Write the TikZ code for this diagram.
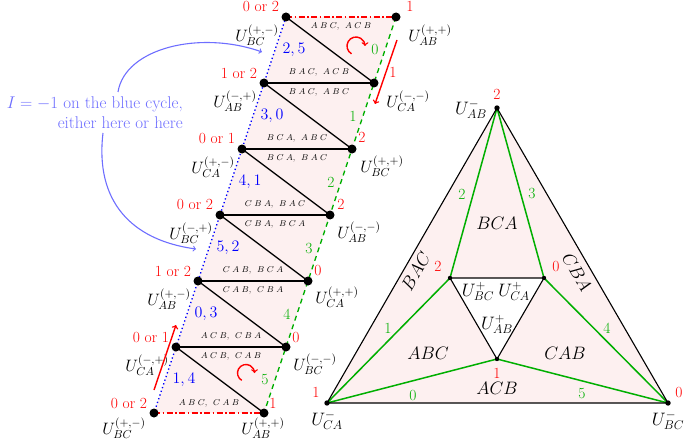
\RequirePackage{fix-cm}
\documentclass[tikz,border=0pt]{standalone}
\usetikzlibrary{calc}
\definecolor{pinkfill}{RGB}{253,240,240}
\definecolor{grn}{RGB}{0,175,0}
\definecolor{rd}{RGB}{255,0,0}
\definecolor{bl}{RGB}{0,0,255}
\definecolor{annot}{RGB}{110,110,255}
\newcommand{\fs}[1]{\fontsize{#1}{#1}\selectfont}
\newcommand{\pp}[2]{$#1$,\ \ $#2$}
\begin{document}
\begin{tikzpicture}[x=1pt,y=-1pt,
  every node/.style={inner sep=0pt},
  ulbl/.style={font=\fs{16.5}},
  redl/.style={text=rd,font=\fs{15.5}},
  grnl/.style={text=grn,font=\fs{15.5}},
  blul/.style={text=bl,font=\fs{16}},
  tlbl/.style={font=\fs{18}},
  small/.style={font=\fs{8.5}},
  edge/.style={line width=1.3pt},
  redarrow/.style={rd,line width=1.4pt,->},
  annarrow/.style={annot,line width=1.1pt,->}]
\useasboundingbox (0,0) rectangle (685,441);
% ---------------- ladder ----------------
\foreach \i in {0,...,6} {
  \coordinate (L\i) at ({286-22*\i},{17+66*\i});
  \coordinate (R\i) at ({396-22*\i},{17+66*\i});
}
\fill[pinkfill] (L0) -- (R0) -- (R6) -- (L6) -- cycle;
\foreach \i in {1,...,5} { \draw[edge] (L\i) -- (R\i); }
\foreach \i/\j in {0/1,1/2,2/3,3/4,4/5,5/6} { \draw[edge] (L\i) -- (R\j); }
\draw[rd,line width=1.3pt,dash pattern=on 6pt off 2.5pt on 1.5pt off 2.5pt] (L0) -- (R0);
\draw[rd,line width=1.3pt,dash pattern=on 6pt off 2.5pt on 1.5pt off 2.5pt] (L6) -- (R6);
\draw[bl,line width=1.4pt,dash pattern=on 1.3pt off 2.6pt] (L0) -- (L6);
\draw[grn,line width=1.3pt,dash pattern=on 5pt off 4pt] (R0) -- (R6);
\foreach \i in {0,...,6} {
  \fill (L\i) circle (4.5);
  \fill (R\i) circle (4.5);
}
% small labels
\node[small] (s0b) at ($(L0)!0.5!(R0)+(0,9)$) {\pp{A\;B\;C}{A\;C\;B}};
\node[small] (s1a) at ($(L1)!0.5!(R1)+(0,-11)$) {\pp{B\;A\;C}{A\;C\;B}};
\node[small] (s1b) at ($(L1)!0.5!(R1)+(0,9)$) {\pp{B\;A\;C}{A\;B\;C}};
\node[small] (s2a) at ($(L2)!0.5!(R2)+(0,-11)$) {\pp{B\;C\;A}{A\;B\;C}};
\node[small] (s2b) at ($(L2)!0.5!(R2)+(0,9)$) {\pp{B\;C\;A}{B\;A\;C}};
\node[small] (s3a) at ($(L3)!0.5!(R3)+(0,-11)$) {\pp{C\;B\;A}{B\;A\;C}};
\node[small] (s3b) at ($(L3)!0.5!(R3)+(0,9)$) {\pp{C\;B\;A}{B\;C\;A}};
\node[small] (s4a) at ($(L4)!0.5!(R4)+(0,-11)$) {\pp{C\;A\;B}{B\;C\;A}};
\node[small] (s4b) at ($(L4)!0.5!(R4)+(0,9)$) {\pp{C\;A\;B}{C\;B\;A}};
\node[small] (s5a) at ($(L5)!0.5!(R5)+(0,-11)$) {\pp{A\;C\;B}{C\;B\;A}};
\node[small] (s5b) at ($(L5)!0.5!(R5)+(0,9)$) {\pp{A\;C\;B}{C\;A\;B}};
\node[small] (s6a) at ($(L6)!0.5!(R6)+(0,-10)$) {\pp{A\;B\;C}{C\;A\;B}};
% vertex labels left
\node[ulbl] (uL0) at ($(L0)+(-29,18)$) {$U_{BC}^{(+,-)}$};
\node[ulbl] (uL1) at ($(L1)+(-29,18)$) {$U_{AB}^{(-,+)}$};
\node[ulbl] (uL2) at ($(L2)+(-29,18)$) {$U_{CA}^{(+,-)}$};
\node[ulbl] (uL3) at ($(L3)+(-29,18)$) {$U_{BC}^{(-,+)}$};
\node[ulbl] (uL4) at ($(L4)+(-29,18)$) {$U_{AB}^{(+,-)}$};
\node[ulbl] (uL5) at ($(L5)+(-29,18)$) {$U_{CA}^{(-,+)}$};
\node[ulbl] (uL6) at ($(L6)+(-30,15)$) {$U_{BC}^{(+,-)}$};
% vertex labels right
\node[ulbl] (uR0) at ($(R0)+(34,18)$) {$U_{AB}^{(+,+)}$};
\node[ulbl] (uR1) at ($(R1)+(34,18)$) {$U_{CA}^{(-,-)}$};
\node[ulbl] (uR2) at ($(R2)+(30,17)$) {$U_{BC}^{(+,+)}$};
\node[ulbl] (uR3) at ($(R3)+(29,17)$) {$U_{AB}^{(-,-)}$};
\node[ulbl] (uR4) at ($(R4)+(29,16)$) {$U_{CA}^{(+,+)}$};
\node[ulbl] (uR5) at ($(R5)+(29,17)$) {$U_{BC}^{(-,-)}$};
\node[ulbl] (uR6) at ($(R6)+(-1,15)$) {$U_{AB}^{(+,+)}$};
% red labels
\node[redl] (rL0) at ($(L0)+(-25,-10)$) {0 or 2};
\node[redl] (rL1) at ($(L1)+(-25,-10)$) {1 or 2};
\node[redl] (rL2) at ($(L2)+(-25,-10)$) {0 or 1};
\node[redl] (rL3) at ($(L3)+(-25,-10)$) {0 or 2};
\node[redl] (rL4) at ($(L4)+(-25,-10)$) {1 or 2};
\node[redl] (rL5) at ($(L5)+(-25,-10)$) {0 or 1};
\node[redl] (rL6) at ($(L6)+(-25,-10)$) {0 or 2};
\node[redl] (rR0) at ($(R0)+(14,-11)$) {1};
\node[redl] (rR1) at ($(R1)+(19,-11)$) {1};
\node[redl] (rR2) at ($(R2)+(10,-12)$) {2};
\node[redl] (rR3) at ($(R3)+(11,-11)$) {2};
\node[redl] (rR4) at ($(R4)+(10,-11)$) {0};
\node[redl] (rR5) at ($(R5)+(10,-10)$) {0};
\node[redl] (rR6) at ($(R6)+(9,-10)$) {1};
% green labels on dashed edge
\foreach \i/\j/\t in {0/1/0,1/2/1,2/3/2,3/4/3,4/5/4,5/6/5} {
  \node[grnl] (g\i) at ($(R\i)!0.5!(R\j)+(-10,0)$) {\t};
}
% blue labels on dotted edge
\node[blul] (b0) at ($(L0)!0.5!(L1)+(19,0)$) {$2,5$};
\node[blul] (b1) at ($(L1)!0.5!(L2)+(19,0)$) {$3,0$};
\node[blul] (b2) at ($(L2)!0.5!(L3)+(19,0)$) {$4,1$};
\node[blul] (b3) at ($(L3)!0.5!(L4)+(19,0)$) {$5,2$};
\node[blul] (b4) at ($(L4)!0.5!(L5)+(19,0)$) {$0,3$};
\node[blul] (b5) at ($(L5)!0.5!(L6)+(19,0)$) {$1,4$};
% red arrows
\coordinate (ra1s) at (397,40); \coordinate (ra1e) at (375,104);
\coordinate (ra2s) at (154,390); \coordinate (ra2e) at (176,325);
\draw[redarrow] (ra1s) -- (ra1e);
\draw[redarrow] (ra2s) -- (ra2e);
\coordinate (c1) at (356,46);
\coordinate (c2) at (246,373);
\draw[redarrow] ($(c1)+(-240:9)$) arc (-240:0:9);
\draw[redarrow] ($(c2)+(-240:8.5)$) arc (-240:0:8.5);
% annotation
\node[text=annot,font=\fontsize{17}{20}\selectfont,align=right,anchor=east] (note) at (183,113)
  {$I=-1$ on the blue cycle,\\ either here or here};
\coordinate (a1s) at (118,92); \coordinate (a1e) at (262,52);
\coordinate (a2s) at (103,133); \coordinate (a2e) at (196,249);
\draw[annarrow] (a1s) .. controls (125,48) and (200,30) .. (a1e);
\draw[annarrow] (a2s) .. controls (95,200) and (130,240) .. (a2e);
% ---------------- triangle ----------------
\coordinate (T) at (497,108);
\coordinate (BL) at (327,403);
\coordinate (BR) at (668,403);
\coordinate (I1) at (450,278);
\coordinate (I2) at (544,278);
\coordinate (I3) at (497,359);
\fill[pinkfill] (T) -- (BL) -- (BR) -- cycle;
\fill[white] (I1) -- (I2) -- (I3) -- cycle;
\draw[grn,line width=1.5pt] (T) -- (I1);
\draw[grn,line width=1.5pt] (T) -- (I2);
\draw[grn,line width=1.5pt] (BL) -- (I1);
\draw[grn,line width=1.5pt] (BL) -- (I3);
\draw[grn,line width=1.5pt] (BR) -- (I2);
\draw[grn,line width=1.5pt] (BR) -- (I3);
\draw[line width=1.1pt] (T) -- (BL) -- (BR) -- cycle;
\draw[line width=1.1pt] (I1) -- (I2) -- (I3) -- cycle;
\fill (T) circle (2.7); \fill (BL) circle (2.7); \fill (BR) circle (2.7);
\fill (I1) circle (2.2); \fill (I2) circle (2.2); \fill (I3) circle (2.2);
% triangle labels
\node[tlbl] (tT) at ($(T)+(-26,1)$) {$U_{AB}^{-}$};
\node[tlbl] (tBL) at ($(BL)+(0,17)$) {$U_{CA}^{-}$};
\node[tlbl] (tBR) at ($(BR)+(0,17)$) {$U_{BC}^{-}$};
\node[tlbl] (tI1) at (478,291) {$U_{BC}^{+}$};
\node[tlbl] (tI2) at (514,291) {$U_{CA}^{+}$};
\node[tlbl] (tI3) at (497,324) {$U_{AB}^{+}$};
\node[redl] (rT) at ($(T)+(0,-14)$) {2};
\node[redl] (rBL) at ($(BL)+(-11,-11)$) {1};
\node[redl] (rBR) at ($(BR)+(11,-11)$) {0};
\node[redl] (rI1) at ($(I1)+(-12,-12)$) {2};
\node[redl] (rI2) at ($(I2)+(12,-12)$) {0};
\node[redl] (rI3) at ($(I3)+(0,14)$) {1};
\node[grnl] (gT1) at (462,194) {2};
\node[grnl] (gT2) at (532,194) {3};
\node[grnl] (gL1) at (388,328) {1};
\node[grnl] (gR1) at (607,328) {4};
\node[grnl] (gL2) at (413,395) {0};
\node[grnl] (gR2) at (582,394) {5};
\node[tlbl] (xBCA) at (497,223) {$BCA$};
\node[tlbl] (xABC) at (428,353) {$ABC$};
\node[tlbl] (xCAB) at (565,353) {$CAB$};
\node[tlbl] (xACB) at (497,388) {$ACB$};
\node[tlbl,rotate=60] (xBAC) at (416,271) {$BAC$};
\node[tlbl,rotate=-60] (xCBA) at (577,272) {$CBA$};
\end{tikzpicture}
\end{document}
